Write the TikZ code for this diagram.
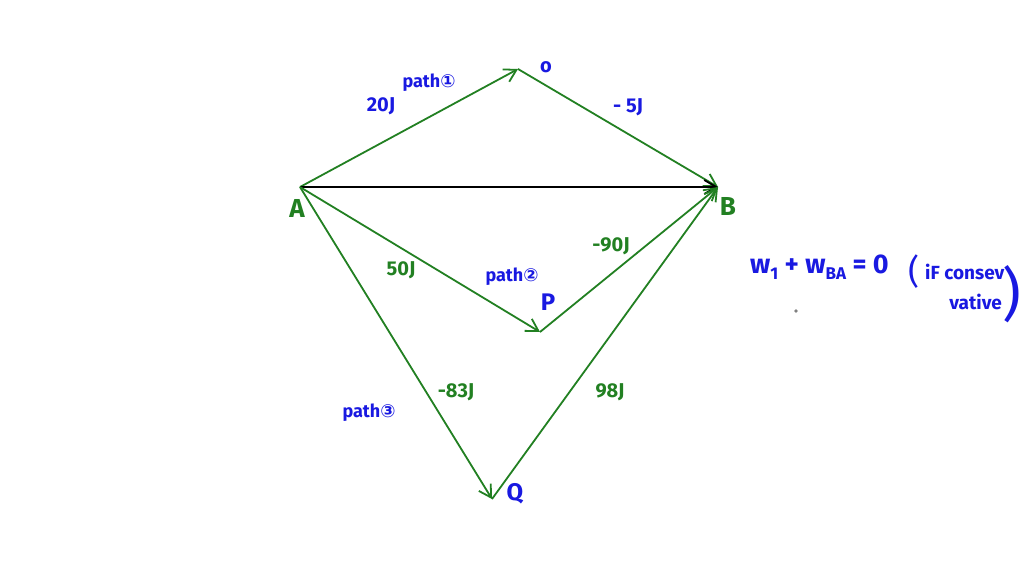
\documentclass[tikz,border=0pt]{standalone}
\usepackage{fontspec}
\setmainfont{Fira Sans}
\newfontfamily\symfont{DejaVu Sans}
\usetikzlibrary{arrows.meta}
\definecolor{pgreen}{RGB}{34,128,34}
\definecolor{pblue}{RGB}{25,25,225}
\newcommand{\mysub}[1]{\raisebox{-6pt}{\fontsize{17}{17}\selectfont #1}}
\begin{document}
\begin{tikzpicture}[x=1pt,y=-1pt,
  vec/.style={draw=pgreen,line width=1.8pt,-{Straight Barb[length=12pt,width=14pt,line width=1.8pt]}},
  blk/.style={draw=black,line width=2pt,-{Straight Barb[length=12pt,width=14pt,line width=1.8pt]}},
  gl/.style={text=pgreen,font=\fontsize{20}{20}\selectfont\bfseries,inner sep=0pt},
  bl/.style={text=pblue,font=\fontsize{20}{20}\selectfont\bfseries,inner sep=0pt},
  pt/.style={font=\fontsize{26}{26}\selectfont\bfseries,inner sep=0pt}]
\useasboundingbox (0,0) rectangle (1024,576);
\fill[white] (0,0) rectangle (1024,576);
\coordinate (A) at (300,187);
\coordinate (O) at (518,69);
\coordinate (B) at (718,187);
\coordinate (P) at (540,332);
\coordinate (Q) at (492,499);
\draw[vec] (A) -- (O);
\draw[vec] (O) -- (B);
\draw[blk] (A) -- (B);
\draw[vec] (A) -- (P);
\draw[vec] (P) -- (B);
\draw[vec] (A) -- (Q);
\draw[vec] (Q) -- (B);
% vertex labels
\node[pt,text=pgreen] (lA) at (297,208) {A};
\node[pt,text=pgreen] (lB) at (728,206) {B};
\node[bl] (lO) at (546,67) {o};
\node[bl,font=\fontsize{24}{24}\selectfont\bfseries] (lP) at (548,302) {P};
\node[bl,font=\fontsize{24}{24}\selectfont\bfseries] (lQ) at (515,494) {Q};
% edge labels
\node[bl] (e1) at (381,106) {20J};
\node[bl,font=\fontsize{18}{18}\selectfont\bfseries] (p1) at (429,83) {path{\symfont ①}};
\node[bl] (e2) at (628,107) {- 5J};
\node[gl] (e3) at (401,270) {50J};
\node[bl,font=\fontsize{18}{18}\selectfont\bfseries] (p2) at (512,277) {path{\symfont ②}};
\node[gl] (e4) at (611,246) {-90J};
\node[gl] (e5) at (456,392) {-83J};
\node[gl] (e6) at (610,392) {98J};
\node[bl,font=\fontsize{18}{18}\selectfont\bfseries] (p3) at (369,413) {path{\symfont ③}};
% equation
\node[bl,font=\fontsize{27}{27}\selectfont\bfseries,anchor=west] (eq) at (750,267) {w\mysub{1} + w\mysub{BA} = 0};
\node[bl,font=\fontsize{34}{34}\selectfont] (lp) at (914,272) {(};
\node[bl,font=\fontsize{19}{19}\selectfont\bfseries,anchor=west] (t1) at (925,272) {iF consev};
\node[bl,font=\fontsize{19}{19}\selectfont\bfseries,anchor=east] (t2) at (1002,302) {vative};
\node[bl,font=\fontsize{58}{58}\selectfont] (rp) at (1012,294) {)};
\fill[gray] (796,311) circle (1.8pt);
\end{tikzpicture}
\end{document}
